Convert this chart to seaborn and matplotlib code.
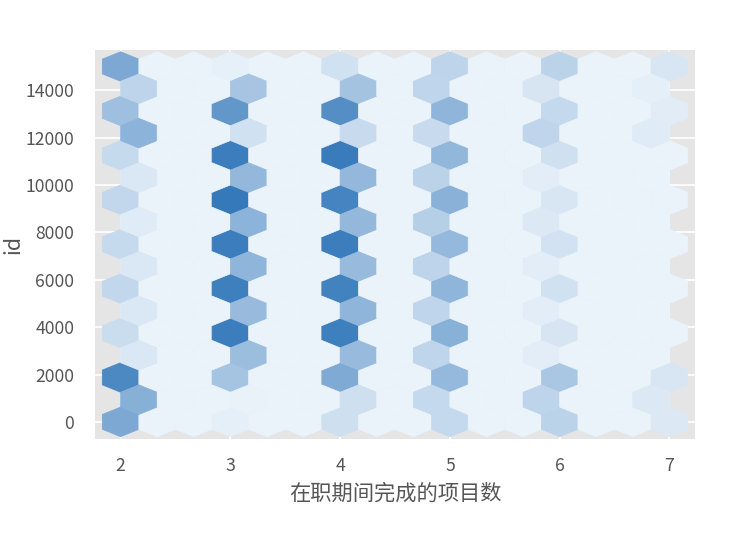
import numpy as np
import matplotlib
matplotlib.use("Agg")
import matplotlib.pyplot as plt
import seaborn as sns

projects = [2, 3, 4, 5, 6, 7]
# representative employee ids: centres of the id bands on the main hex rows
ids_on_row = [1, 1876, 3751, 5625, 7500, 9375, 11250, 13125, 14999]
# centres of the id bands on the offset hex rows
ids_mid_row = [938, 2813, 4688, 6563, 8438, 10313, 12188, 14062]

counts_on_row = {
    2: [268, 383, 79, 97, 88, 97, 88, 185, 268],
    3: [13, 167, 422, 418, 422, 440, 422, 330, 9],
    4: [70, 260, 418, 409, 422, 400, 431, 361, 62],
    5: [92, 207, 238, 220, 207, 233, 216, 220, 110],
    6: [114, 158, 48, 62, 57, 44, 66, 92, 114],
    7: [35, 44, 0, 0, 0, 0, 0, 22, 44],
}
counts_mid_row = {
    2: [242, 40, 40, 40, 26, 40, 229, 110],
    3: [4, 194, 202, 220, 229, 211, 62, 163],
    4: [70, 198, 220, 202, 211, 211, 84, 172],
    5: [92, 106, 106, 110, 128, 114, 84, 106],
    6: [110, 18, 18, 18, 35, 18, 106, 48],
    7: [35, 0, 0, 0, 0, 0, 26, 13],
}

xlabel = "在职期间完成的项目数"
ylabel = "id"

# expand the counts into individual records
xs, ys = [], []
for p in projects:
    for idv, c in zip(ids_on_row, counts_on_row[p]):
        xs.append(np.full(c, p, dtype=float)); ys.append(np.full(c, idv, dtype=float))
    for idv, c in zip(ids_mid_row, counts_mid_row[p]):
        xs.append(np.full(c, p, dtype=float)); ys.append(np.full(c, idv, dtype=float))
x = np.concatenate(xs)
y = np.concatenate(ys)

# ---- style ----
plt.style.use("ggplot")
plt.rcParams["font.family"] = ["Noto Sans CJK SC", "DejaVu Sans"]
plt.rcParams["axes.unicode_minus"] = False

cmap = sns.blend_palette(["#EAF2FA", "#3579BA"], as_cmap=True)

fig = plt.figure(figsize=(7.49, 5.38), dpi=100)
ax = fig.add_axes([95 / 749, (538 - 438.5) / 538, 600 / 749, 388.5 / 538])
ax.set_facecolor("#E5E5E5")
ax.grid(True, color="white", linewidth=1.2)
ax.set_axisbelow(True)

ax.hexbin(x, y, gridsize=15, extent=(2, 7, 1, 14999), cmap=cmap,
          edgecolors="face", linewidths=0.5, zorder=2)

ax.set_xlim(1.767, 7.233)
ax.set_ylim(-700, 15696)
ax.set_xticks(projects)
ax.set_yticks([0, 2000, 4000, 6000, 8000, 10000, 12000, 14000])
for s in ax.spines.values():
    s.set_visible(False)

ax.tick_params(axis="x", length=0, pad=13.5, labelsize=12.7, labelcolor="#555555")
ax.tick_params(axis="y", length=0, pad=15, labelsize=12.7, labelcolor="#555555")
ax.set_xlabel(xlabel, fontsize=15.3, color="#555555", labelpad=5)
ax.set_ylabel(ylabel, fontsize=15.3, color="#555555", labelpad=1)

fig.savefig("out.png", dpi=100)
